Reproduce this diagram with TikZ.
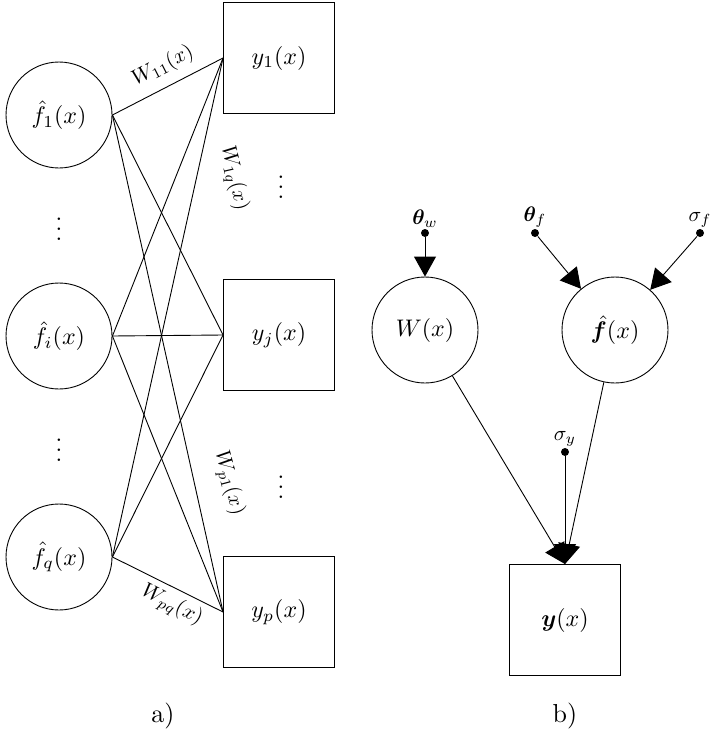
\documentclass[tikz,border=0pt]{standalone}
\usepackage{amsmath,bm}
\usetikzlibrary{arrows.meta}
\newcommand\mysz[2]{\scalebox{#1}{#2}}
\begin{document}
\begin{tikzpicture}[x=1pt,y=-1pt,
  cnode/.style={circle,draw,minimum size=106pt,inner sep=0pt},
  snode/.style={rectangle,draw,minimum size=111pt,inner sep=0pt},
  dot/.style={circle,fill,inner sep=0pt,minimum size=8pt},
  arr/.style={-{Triangle[length=20pt,width=22pt]}},
  every path/.style={line width=0.9pt}]
\useasboundingbox (0,0) rectangle (720,752);
\node[cnode] (f1) at (59,115) {\mysz{2.4}{$\hat f_1(x)$}};
\node[cnode] (fi) at (59,336) {\mysz{2.4}{$\hat f_i(x)$}};
\node[cnode] (fq) at (59,557) {\mysz{2.4}{$\hat f_q(x)$}};
\node[snode] (y1) at (279,58) {\mysz{2.4}{$y_1(x)$}};
\node[snode] (yj) at (279,335) {\mysz{2.4}{$y_j(x)$}};
\node[snode] (yp) at (279,612) {\mysz{2.4}{$y_p(x)$}};
\node at (59,222) {\mysz{2.4}{$\vdots$}};
\node at (59,443) {\mysz{2.4}{$\vdots$}};
\node at (281,180) {\mysz{2.4}{$\vdots$}};
\node at (281,480) {\mysz{2.4}{$\vdots$}};
\foreach \a in {f1,fi,fq}{\foreach \b in {y1,yj,yp}{\draw (\a.east) -- (\b.west);}}
\node[rotate=27] (w11) at (163,66) {\mysz{2.1}{$W_{11}(x)$}};
\node[rotate=-77] (w1q) at (234,178) {\mysz{2.1}{$W_{1q}(x)$}};
\node[rotate=-75] (wp1) at (229,483) {\mysz{2.1}{$W_{p1}(x)$}};
\node[rotate=-27] (wpq) at (172,605) {\mysz{2.1}{$W_{pq}(x)$}};
\node (la) at (163,716) {\mysz{2.6}{a)}};
% right
\node[cnode] (W) at (425,330) {\mysz{2.4}{$W(x)$}};
\node[cnode] (F) at (615,330) {\mysz{2.4}{$\hat{\bm f}(x)$}};
\node[snode] (Y) at (565,620) {\mysz{2.4}{$\bm y(x)$}};
\node[dot] (tw) at (425,233) {};
\node[above=2pt] (ltw) at (tw) {\mysz{2.1}{$\bm\theta_w$}};
\node[dot] (tf) at (535,233) {};
\node[above=2pt] (ltf) at (tf) {\mysz{2.1}{$\bm\theta_f$}};
\node[dot] (sf) at (700,233) {};
\node[above=2pt] (lsf) at (sf) {\mysz{2.1}{$\sigma_f$}};
\node[dot] (sy) at (565,452) {};
\node[above=2pt] (lsy) at (sy) {\mysz{2.1}{$\sigma_y$}};
\draw[arr] (tw) -- (W);
\draw[arr] (tf) -- (F);
\draw[arr] (sf) -- (F);
\draw[arr] (W) -- (Y.north);
\draw[arr] (F) -- (Y.north);
\draw[arr] (sy) -- (Y.north);
\node (lb) at (565,716) {\mysz{2.6}{b)}};
\end{tikzpicture}
\end{document}
